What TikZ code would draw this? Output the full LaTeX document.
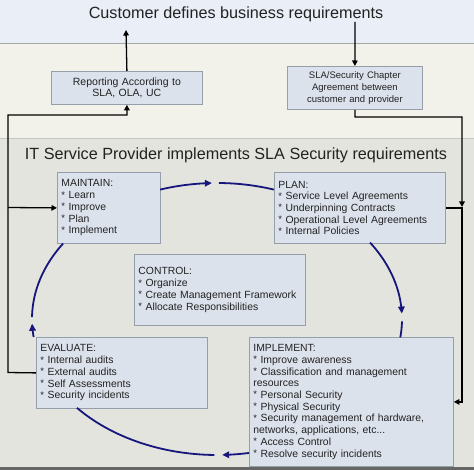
\documentclass[tikz,border=0pt]{standalone}
\usepackage{fontspec}
\setmainfont{Liberation Sans}
\usetikzlibrary{arrows.meta}
\definecolor{topband}{HTML}{E9EEF7}
\definecolor{midband}{HTML}{F3F2EA}
\definecolor{lowband}{HTML}{E4E4DE}
\definecolor{boxfill}{HTML}{DCE2EC}
\definecolor{boxline}{HTML}{959EA9}
\definecolor{cyc}{HTML}{16167C}
\definecolor{txt}{HTML}{222222}
\newcommand\bu{\raisebox{0.1ex}{\fontsize{9.5}{9}\selectfont *}\ }
\begin{document}
\begin{tikzpicture}[x=1pt,y=-1pt,
  box/.style={draw=boxline, fill=boxfill, line width=0.8pt, inner xsep=4pt, inner ysep=0pt,
    align=left, font=\fontsize{10.4}{11.7}\selectfont, text=txt, anchor=north west},
  smallbox/.style={box, align=center},
  conn/.style={draw=black, line width=1.3pt, -{Triangle[length=5.5pt,width=5.5pt]}},
  cycle/.style={draw=cyc, line width=1.8pt},
  cyclearrow/.style={cycle, -{Triangle[length=7pt,width=6.5pt]}},
  title/.style={text=txt, inner sep=0pt}
]
\useasboundingbox (0,0) rectangle (474,470);
% bands
\fill[topband] (0,0) rectangle (474,43);
\fill[midband] (0,43) rectangle (474,138);
\fill[lowband] (0,138) rectangle (474,470);
\draw[gray!70, line width=0.8pt] (0,43) -- (474,43);
\draw[gray!45, line width=0.8pt] (0,138) -- (474,138);
\fill[black!60] (0,467) rectangle (474,470);

% titles
\node[title, anchor=base, font=\fontsize{16.2}{18}\selectfont] (cust) at (236,18.5) {Customer defines business requirements};
\node[title, anchor=base, font=\fontsize{16.2}{18}\selectfont] (prov) at (236,159.5) {IT Service Provider implements SLA Security requirements};

% top boxes
\node[smallbox, font=\fontsize{10.5}{11.5}\selectfont, minimum width=151pt, minimum height=33pt, text width=143pt] (rep) at (51,71)
  {Reporting According to\\SLA, OLA, UC};
\node[smallbox, font=\fontsize{9.5}{12}\selectfont, minimum width=135pt, minimum height=43pt, text width=127pt] (sla) at (287,66)
  {SLA/Security Chapter\\Agreement between\\customer and provider};

% cycle boxes
\node[box, minimum width=103pt, minimum height=71pt, text width=95pt] (maint) at (57,172)
  {MAINTAIN:\\\bu Learn\\\bu Improve\\\bu Plan\\\bu Implement};
\node[box, minimum width=171pt, minimum height=71pt, text width=163pt] (plan) at (274,172)
  {PLAN:\\\bu Service Level Agreements\\\bu Underpinning Contracts\\\bu Operational Level Agreements\\\bu Internal Policies};
\node[box, minimum width=171pt, minimum height=71pt, text width=163pt] (ctrl) at (134,254)
  {CONTROL:\\\bu Organize\\\bu Create Management Framework\\\bu Allocate Responsibilities};
\node[box, minimum width=171pt, minimum height=71pt, text width=163pt] (eval) at (36,337)
  {EVALUATE:\\\bu Internal audits\\\bu External audits\\\bu Self Assessments\\\bu Security incidents};
\node[box, minimum width=204pt, minimum height=129pt, text width=196pt] (impl) at (249,337)
  {IMPLEMENT:\\\bu Improve awareness\\\bu Classification and management\\resources\\\bu Personal Security\\\bu Physical Security\\\bu Security management of hardware,\\networks, applications, etc...\\\bu Access Control\\\bu Resolve security incidents};

% black connectors
\coordinate (upend) at (126,30);
\coordinate (downstart) at (355,22);
\coordinate (rj) at (462,207);
\coordinate (lj) at (8,207.5);
\draw[conn] (rep.north) -- (upend);
\draw[conn] (downstart) -- (sla.north);
\draw[conn] (sla.south) -- (355,117) -- (462,117) -- (rj);
\draw[conn] (plan.east) -- (plan.east -| rj) |- (impl.east);
\draw[conn] (eval.west) -- (8,372.5) -- (8,115) -| (rep.south);
\draw[conn] (lj) -- (maint.west);

% blue cycle (ellipse centre 217,319; radii 185,136)
\def\ex#1{217+185*cos(#1)}
\def\ey#1{319-136*sin(#1)}
\draw[cyclearrow] plot[domain=107.9:91.6, samples=30] ({\ex{\x}},{\ey{\x}});
\draw[cycle] plot[domain=89.4:72.1, samples=30] ({\ex{\x}},{\ey{\x}});
\draw[cyclearrow] plot[domain=34.2:2.3, samples=30] ({\ex{\x}},{\ey{\x}});
\draw[cycle] plot[domain=-1:-7.8, samples=10] ({\ex{\x}},{\ey{\x}});
\draw[cyclearrow] plot[domain=-80:-88.4, samples=10] ({\ex{\x}},{\ey{\x}});
\draw[cycle] plot[domain=-90.8:-139.2, samples=30] ({\ex{\x}},{\ey{\x}});
\draw[cyclearrow] plot[domain=187.6:182, samples=10] ({\ex{\x}},{\ey{\x}});
\draw[cycle] plot[domain=179.2:146.3, samples=30] ({\ex{\x}},{\ey{\x}});
\end{tikzpicture}
\end{document}
